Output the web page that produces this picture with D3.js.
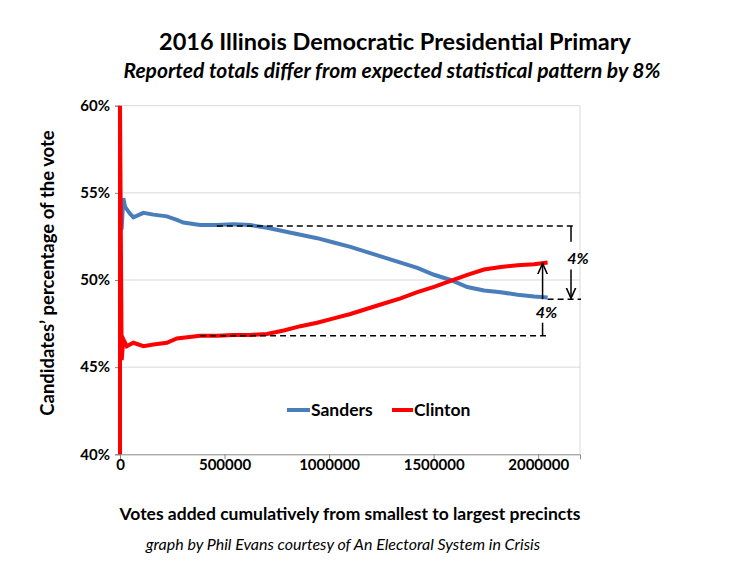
<!DOCTYPE html>
<html><head><meta charset="utf-8">
<script src="https://cdn.jsdelivr.net/npm/d3@7"></script>
<style>body{margin:0;background:#fff}text{font-family:Lato,"Liberation Sans",sans-serif}</style>
</head><body><svg id="c" width="750" height="563"></svg>
<script>
const xTicks=[0,500000,1000000,1500000,2000000];
const yTicks=[40,45,50,55,60];
const sandersX=[0,8000,16000,24000,48000,64000,112000,160000,224000,272000,303000,383000,463000,543000,623000,703000,783000,863000,943000,1022000,1102000,1182000,1262000,1342000,1422000,1502000,1581000,1661000,1741000,1821000,1901000,1981000,2045000];
const sandersY=[53.0,53.0,54.7,54.2,53.8,53.6,53.85,53.75,53.65,53.45,53.3,53.15,53.15,53.2,53.15,53.0,52.8,52.6,52.4,52.15,51.9,51.6,51.3,51.0,50.7,50.3,50.0,49.6,49.4,49.3,49.15,49.05,49.0];
const clintonX=[0,0,8000,16000,32000,64000,112000,160000,224000,272000,383000,463000,543000,623000,703000,783000,863000,943000,1022000,1102000,1182000,1262000,1342000,1422000,1502000,1581000,1661000,1741000,1821000,1901000,1981000,2045000];
const clintonY=[40,60,45.4,46.6,46.2,46.4,46.2,46.3,46.4,46.65,46.8,46.8,46.85,46.85,46.9,47.1,47.35,47.55,47.8,48.05,48.35,48.65,48.95,49.3,49.6,49.95,50.3,50.6,50.75,50.85,50.9,51.0];
const svg=d3.select("#c");
const x=d3.scaleLinear().domain([0,2200000]).range([120,580]);
const y=d3.scaleLinear().domain([40,60]).range([454.3,105.7]);
svg.append("g").selectAll("line").data(yTicks.slice(1)).join("line")
 .attr("x1",120).attr("x2",580).attr("y1",d=>y(d)).attr("y2",d=>y(d)).attr("stroke","#d9d9d9");
svg.append("line").attr("x1",580).attr("x2",580).attr("y1",105.7).attr("y2",454.3).attr("stroke","#d9d9d9");
const ya=svg.append("g").attr("transform","translate(120,0)").call(d3.axisLeft(y).tickValues(yTicks).tickFormat(d=>d+"%").tickSize(5));
const xa=svg.append("g").attr("transform","translate(0,454.3)").call(d3.axisBottom(x).tickValues(xTicks).tickFormat(d3.format("d")).tickSize(5));
[ya,xa].forEach(a=>{a.selectAll("path,line").attr("stroke","#868686");a.selectAll("text").attr("font-size",15).attr("font-weight","bold").attr("fill","#000").attr("font-family","Lato,sans-serif");});
ya.selectAll("text").attr("dx",-2);xa.selectAll("text").attr("dy",8);
const line=d3.line().x(d=>x(d[0])).y(d=>y(d[1]));
svg.append("path").datum(sandersX.map((v,i)=>[v,sandersY[i]])).attr("d",line).attr("fill","none").attr("stroke","#4a7ebb").attr("stroke-width",4);
svg.append("path").datum(clintonX.map((v,i)=>[v,clintonY[i]])).attr("d",line).attr("fill","none").attr("stroke","#ff0000").attr("stroke-width",4);
const dash=(x1,x2,v)=>svg.append("line").attr("x1",x(x1)).attr("x2",x(x2)).attr("y1",y(v)).attr("y2",y(v)).attr("stroke","#000").attr("stroke-width",1.5).attr("stroke-dasharray","6,4");
dash(463000,2173000,53.1);dash(2045000,2205000,48.9);dash(383000,2037000,46.8);
svg.append("defs").append("marker").attr("id","ah").attr("viewBox","0 0 10 10").attr("refX",9).attr("refY",5).attr("markerWidth",8).attr("markerHeight",8).attr("orient","auto-start-reverse")
 .append("path").attr("d","M0,1L9,5L0,9").attr("fill","none").attr("stroke","#000").attr("stroke-width",1.3);
const vl=(xv,a,b,arrow)=>{const l=svg.append("line").attr("x1",x(xv)).attr("x2",x(xv)).attr("y1",y(a)).attr("y2",y(b)).attr("stroke","#000").attr("stroke-width",1.5);if(arrow)l.attr("marker-end","url(#ah)");};
vl(2157000,53.1,52.2,false);vl(2157000,50.6,48.95,true);
vl(2021000,46.8,47.55,false);vl(2021000,48.9,50.95,true);
svg.append("text").attr("x",x(2190000)).attr("y",y(51.25)+6).attr("text-anchor","middle").attr("font-size",16).attr("font-style","italic").attr("font-weight","bold").text("4%");
svg.append("text").attr("x",x(2040000)).attr("y",y(48.15)+6).attr("text-anchor","middle").attr("font-size",16).attr("font-style","italic").attr("font-weight","bold").text("4%");
svg.append("line").attr("x1",287).attr("x2",310).attr("y1",410).attr("y2",410).attr("stroke","#4a7ebb").attr("stroke-width",4);
svg.append("text").attr("x",311).attr("y",416).attr("font-size",17.5).attr("font-weight","bold").text("Sanders");
svg.append("line").attr("x1",392).attr("x2",413).attr("y1",410).attr("y2",410).attr("stroke","#ff0000").attr("stroke-width",4);
svg.append("text").attr("x",414).attr("y",416).attr("font-size",17.5).attr("font-weight","bold").text("Clinton");
svg.append("text").attr("x",395).attr("y",50).attr("text-anchor","middle").attr("font-size",23.5).attr("font-weight","bold").text("2016 Illinois Democratic Presidential Primary");
svg.append("text").attr("x",392).attr("y",78).attr("text-anchor","middle").attr("font-size",21).attr("font-weight","bold").attr("font-style","italic").text("Reported totals differ from expected statistical pattern by 8%");
svg.append("text").attr("transform","translate(54,273) rotate(-90)").attr("text-anchor","middle").attr("font-size",18.5).attr("font-weight","bold").text("Candidates’ percentage of the vote");
svg.append("text").attr("x",350).attr("y",520).attr("text-anchor","middle").attr("font-size",17.5).attr("font-weight","bold").text("Votes added cumulatively from smallest to largest precincts");
svg.append("text").attr("x",343).attr("y",550).attr("text-anchor","middle").attr("font-size",16).attr("font-style","italic").text("graph by Phil Evans courtesy of An Electoral System in Crisis");
</script></body></html>
